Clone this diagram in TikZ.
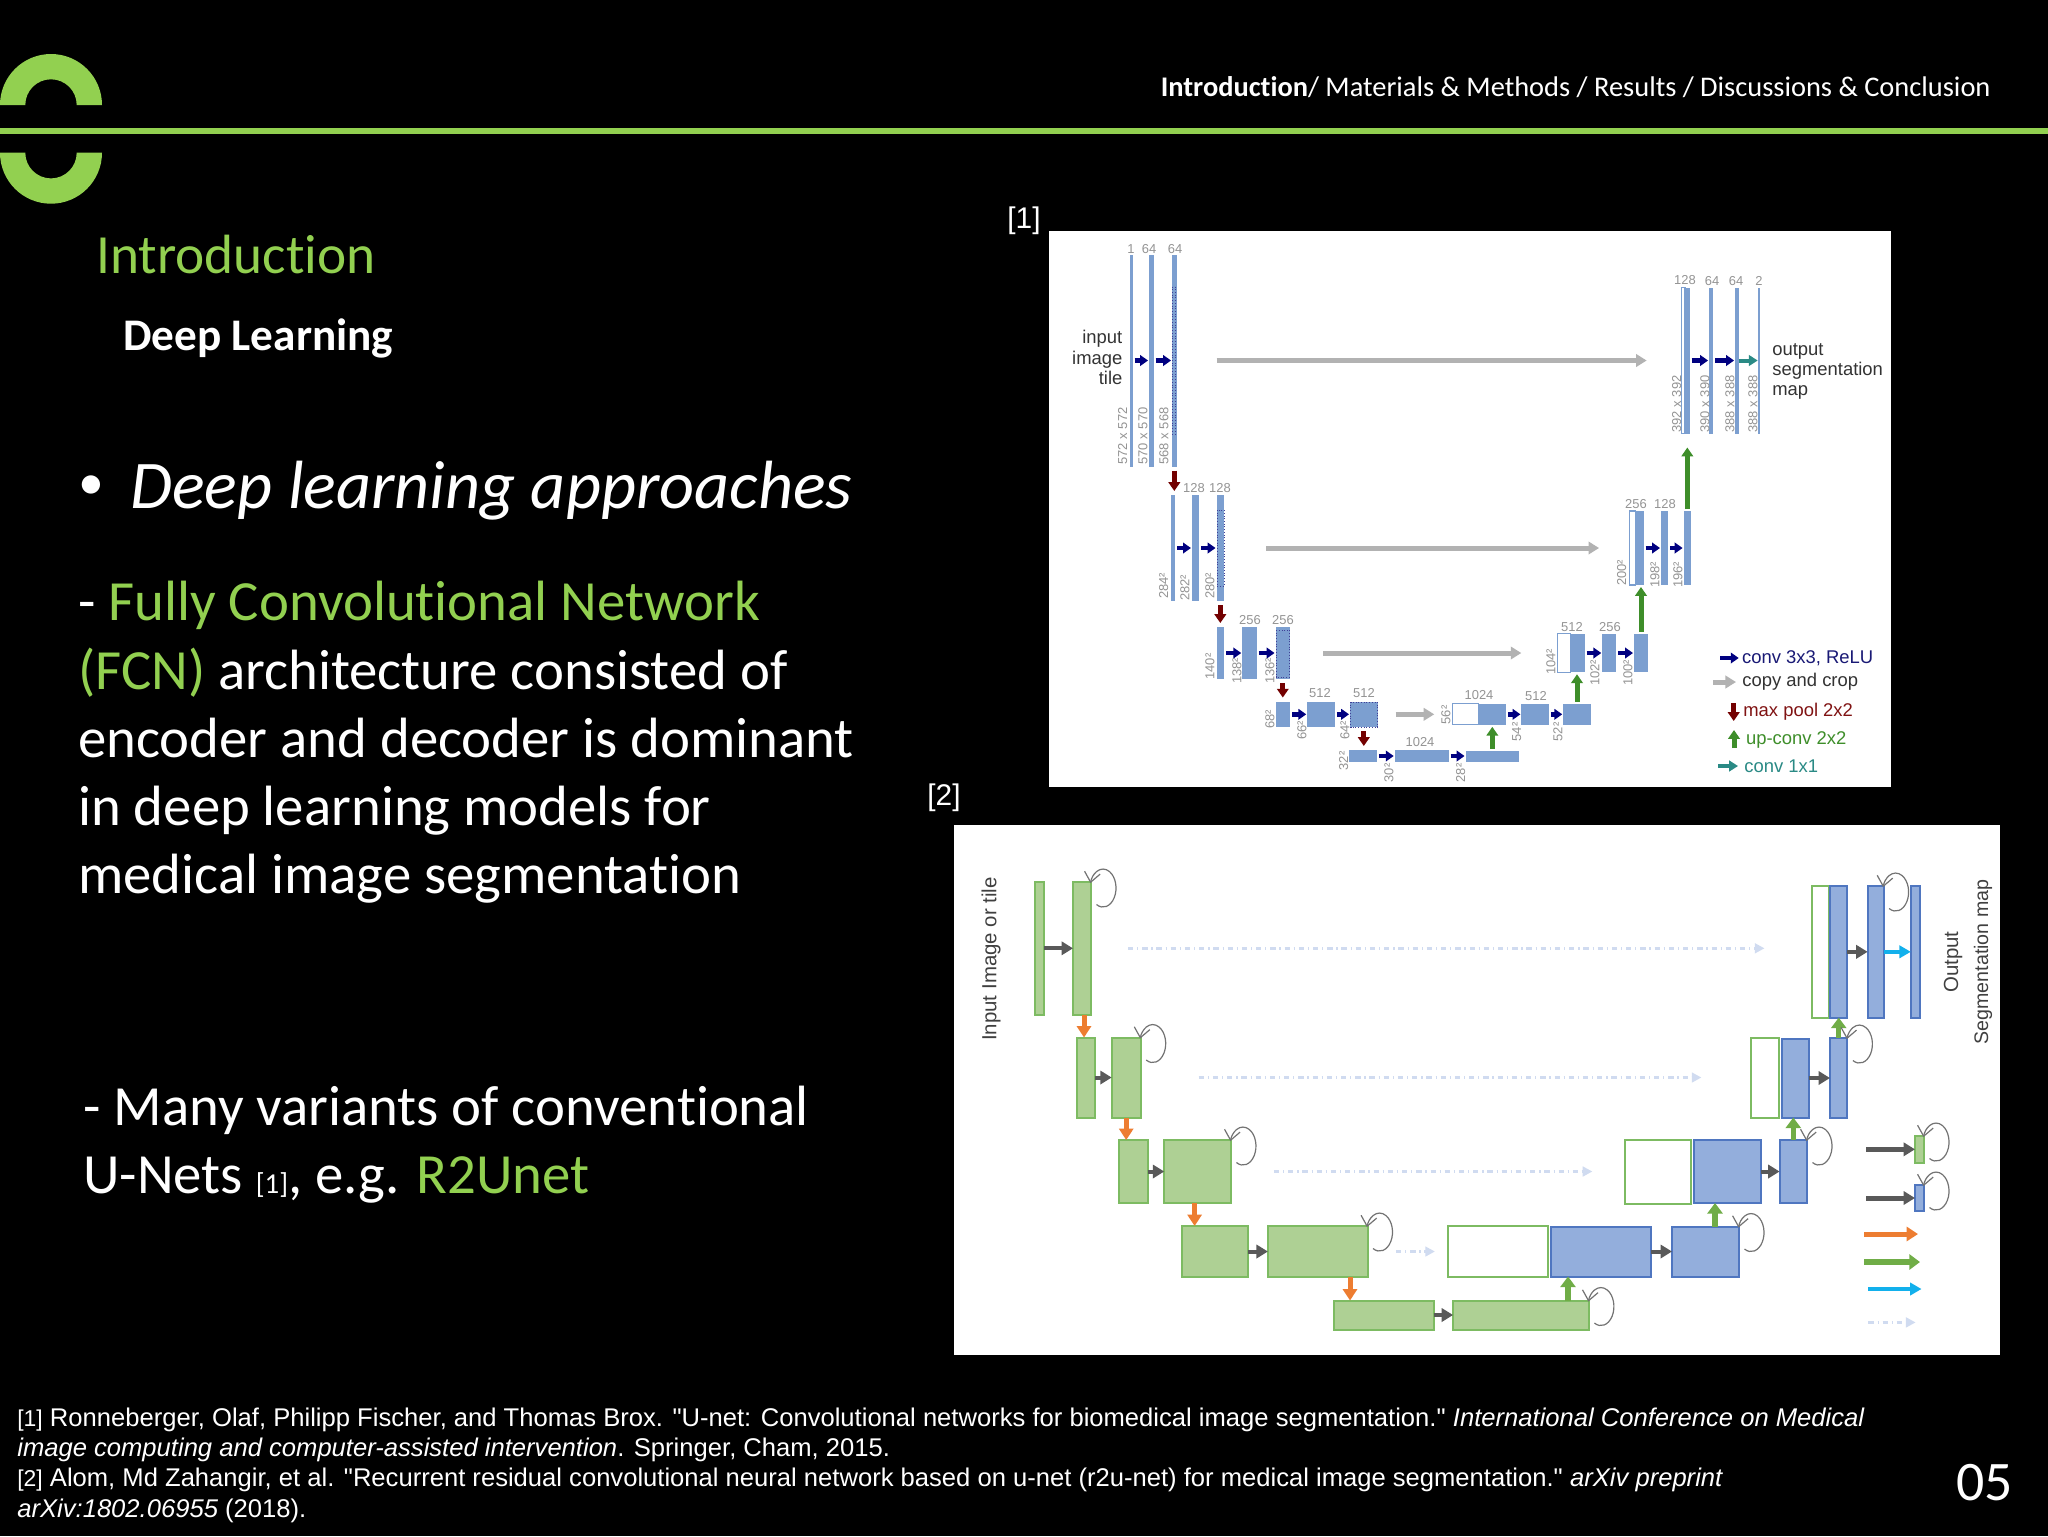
\documentclass[tikz,border=0pt]{standalone}
\usepackage{fontspec}
\setmainfont[Ligatures=CommonOff]{Carlito}
\newfontfamily\arialfont{Liberation Sans}
\usetikzlibrary{arrows.meta,positioning}
\definecolor{limeg}{HTML}{92D050}
\definecolor{ublue}{HTML}{7C9FD0}
\definecolor{gblock}{HTML}{AED094}
\definecolor{gedge}{HTML}{7DBB62}
\definecolor{bblock}{HTML}{93AEDC}
\definecolor{bedge}{HTML}{4F76C0}
\definecolor{upgreen}{HTML}{3E8E2A}
\definecolor{onet}{HTML}{2A8A85}
\definecolor{kgreen}{HTML}{70AD47}
\definecolor{korange}{HTML}{ED7D31}
\definecolor{kcyan}{HTML}{12B0EC}
\definecolor{kdark}{HTML}{595959}
\definecolor{kskip}{HTML}{D0DBF0}
\newcommand{\px}{0.02cm}
% font size and baseline skip in picture units
\newcommand{\fszb}[2]{\pgfmathsetmacro\fszA{#1*0.5669}\pgfmathsetmacro\fszB{#2*0.5669}\fontsize{\fszA pt}{\fszB pt}\selectfont}
\newcommand{\fsz}[1]{\fszb{#1}{#1*1.2}}
\tikzset{
  x=0.02cm, y=-0.02cm,
  >=Stealth,
  bar/.style = {fill=ublue, draw=none, inner sep=0pt, outer sep=0pt},
  hollow/.style = {fill=white, draw=ublue, line width=0.6pt, inner sep=0pt, outer sep=0pt},
  dots/.style = {blue!45!black!75!white, densely dotted, line width=0.55pt},
  conv/.style = {-{Triangle[length=4.5pt,width=6pt]}, color=blue!50!black, line width=4.5*\px, shorten <=2*\px, shorten >=1*\px},
  copyarr/.style = {-{Triangle[length=6pt,width=7pt]}, color=black!30, line width=5*\px},
  pool/.style = {-{Triangle[length=5pt,width=6.5pt]}, color=red!45!black, line width=5*\px, shorten <=4*\px, shorten >=4*\px},
  upconv/.style = {-{Triangle[length=5pt,width=6.5pt]}, color=upgreen, line width=5*\px, shorten <=2*\px, shorten >=2*\px},
  onebyone/.style = {-{Triangle[length=5pt,width=6pt]}, color=onet, line width=4*\px},
  toplab/.style = {font=\arialfont\fsz{13}, text=black!42, inner sep=0pt},
  dimlab/.style = {toplab, rotate=90},
  ulab/.style = {font=\arialfont\fszb{18.5}{20.3}, text=black!80, inner sep=0pt},
  gblk/.style = {fill=gblock, draw=gedge, line width=2*\px, inner sep=0pt, outer sep=0pt},
  bblk/.style = {fill=bblock, draw=bedge, line width=2*\px, inner sep=0pt, outer sep=0pt},
  wblk/.style = {fill=white, draw=gedge, line width=2*\px, inner sep=0pt, outer sep=0pt},
  darr/.style = {-{Triangle[length=6.5pt,width=7.5pt]}, color=kdark, line width=4*\px},
  oarr/.style = {-{Triangle[length=6.5pt,width=8pt]}, color=korange, line width=5*\px},
  garr/.style = {-{Triangle[length=6pt,width=8.5pt]}, color=kgreen, line width=5.5*\px},
  carr/.style = {-{Triangle[length=6.5pt,width=7pt]}, color=kcyan, line width=4*\px},
  skiparr/.style = {-{Triangle[length=5.5pt,width=5.5pt]}, color=kskip, line width=2.5*\px, dash pattern=on 3pt off 2.2pt on 0.7pt off 2.2pt},
  looparr/.style = {-{Straight Barb[length=5.5pt,width=9pt]}, color=black!55, line width=1.2*\px},
  rlab/.style = {font=\arialfont\fsz{20.5}, text=black!75, inner sep=0pt, rotate=90},
  slide/.style = {text=white, inner sep=0pt, anchor=west, align=left},
  ref/.style = {text=white, inner sep=0pt, anchor=west, font=\arialfont\fsz{25.7}},
}
% block given by centre and size, in picture units
\newcommand{\blk}[6]{\node[#1, minimum width=#5*\px, minimum height=#6*\px] (#2) at (#3,#4) {};}
% recurrent loop on the top right corner of a block
\newcommand{\recur}[1]{\draw[looparr] ([shift={(5.5,22.5)}]#1.north east)
  arc[start angle=120, end angle=-165, x radius=13, y radius=19];}

\begin{document}
\begin{tikzpicture}
  \useasboundingbox (0,0) rectangle (2048,1536);
  \fill[black] (0,0) rectangle (2048,1536);

  % logo and rule
  \fill[limeg] (0,105) arc[start angle=180, end angle=360, radius=51]
    -- (76.7,105) arc[start angle=360, end angle=180, radius=25.7] -- cycle;
  \fill[limeg] (0,152.7) arc[start angle=180, end angle=0, radius=51]
    -- (76.7,152.7) arc[start angle=0, end angle=180, radius=25.7] -- cycle;
  \fill[limeg] (0,128) rectangle (2048,134.3);

  % slide text
  \node[slide, anchor=east, font=\fsz{28.55}] (crumbs) at (1991,87) {\textbf{Introduction}/ Materials \& Methods / Results / Discussions \& Conclusion};
  \node[slide, font=\fsz{55.5}, text=limeg] (title) at (96,254.5) {Introduction};
  \node[slide, font=\bfseries\fsz{45.4}] (sub) at (123,338.5) {Deep Learning};
  \node[slide, font=\fsz{52}] (bull) at (78,488) {•};
  \node[slide, font=\itshape\fsz{68.5}] (deep) at (130,491) {Deep learning approaches};
  \node[slide, font=\fszb{57}{68.5}] (para) at (78,742.5) {%
    - \textcolor{limeg}{Fully Convolutional Network}\\
    \textcolor{limeg}{(FCN)} architecture consisted of\\
    encoder and decoder is dominant\\
    in deep learning models for\\
    medical image segmentation};
  \node[slide, font=\fszb{57}{68.5}] (many) at (83,1145) {%
    - Many variants of conventional\\
    U-Nets {\fsz{29}[1]}, e.g. \textcolor{limeg}{R2Unet}};
  \node[slide, font=\fsz{56}] (pageno) at (1956,1483) {05};
  \node[slide, font=\arialfont\fsz{30}] (tagA) at (1007,221) {[1]};
  \node[slide, font=\arialfont\fsz{30}] (tagB) at (927,798) {[2]};

  % references
  \node[ref] (refA) at (17,1419.5) {{\fsz{23}[1]} Ronneberger, Olaf, Philipp Fischer, and Thomas Brox. "U-net: Convolutional networks for biomedical image segmentation." \textit{International Conference on Medical}};
  \node[ref] (refB) at (17,1449.5) {\textit{image computing and computer-assisted intervention}. Springer, Cham, 2015.};
  \node[ref] (refC) at (17,1479.5) {{\fsz{23}[2]} Alom, Md Zahangir, et al. "Recurrent residual convolutional neural network based on u-net (r2u-net) for medical image segmentation." \textit{arXiv preprint}};
  \node[ref] (refD) at (17,1510.5) {\textit{arXiv:1802.06955} (2018).};

  % U-Net panel
  \fill[white] (1049,231) rectangle (1891,787);
  \blk{bar}{uA}{1131}{360.5}{3}{212}
  \blk{bar}{uB}{1151.3}{360.5}{4.5}{212}
  \blk{bar}{uC}{1174.3}{360.5}{4.5}{212}
  \blk{bar}{vA}{1173}{548}{4.5}{106}
  \blk{bar}{vB}{1195.7}{548}{7.5}{106}
  \blk{bar}{vC}{1220.3}{548}{7.5}{106}
  \blk{bar}{wA}{1220.6}{653}{7.5}{52}
  \blk{bar}{wB}{1249.5}{653}{14.5}{52}
  \blk{bar}{wC}{1282.8}{653}{14.5}{52}
  \blk{bar}{xA}{1283}{714.3}{14}{25.5}
  \blk{bar}{xB}{1321}{714.3}{27.5}{25.5}
  \blk{bar}{xC}{1363.8}{714.3}{27.5}{25.5}
  \blk{bar}{yA}{1363}{756}{27.5}{12}
  \blk{bar}{yB}{1421.7}{756}{54}{12}
  \blk{bar}{yC}{1492.3}{756}{53.5}{11}
  \blk{hollow}{xW}{1465.5}{714.3}{26.5}{21}
  \blk{bar}{xD}{1492.3}{714.3}{27.5}{21}
  \blk{bar}{xE}{1535.2}{714.3}{27.5}{21}
  \blk{bar}{xF}{1577}{714.3}{27.5}{21}
  \blk{hollow}{wW}{1564}{653}{13.4}{38.5}
  \blk{bar}{wD}{1577.7}{653}{14}{38.5}
  \blk{bar}{wE}{1609.3}{653}{14}{38.5}
  \blk{bar}{wF}{1641}{653}{14}{38.5}
  \blk{hollow}{vW}{1632.4}{548}{6.7}{74}
  \blk{bar}{vD}{1639.7}{548}{8}{74}
  \blk{bar}{vE}{1664.7}{548}{7.4}{74}
  \blk{bar}{vF}{1687.3}{548}{7.4}{74}
  \blk{hollow}{uW}{1683.3}{360.5}{3.3}{146}
  \blk{bar}{uD}{1687.3}{360.5}{4.7}{146}
  \blk{bar}{uE}{1711.2}{360.5}{4.3}{146}
  \blk{bar}{uF}{1736.9}{360.5}{3.7}{146}
  \blk{bar}{uG}{1758.7}{360.5}{2}{146}
  % dropout marks
  \draw[dots] (uC.center) ++(-1.5,-74) -- ++(0,148) (uC.center) ++(1.5,-74) -- ++(0,148);
  \draw[dots] (1217,510) rectangle (1224,586);
  \draw[dots] (1276,630) rectangle (1289.5,677);
  \draw[dots] (1350.5,702) rectangle (1377.5,727);

  % same level arrows
  \foreach \from/\to in {uA/uB, uB/uC, vA/vB, vB/vC, wA/wB, wB/wC, xA/xB, xB/xC, yA/yB, yB/yC, xD/xE, xE/xF, wD/wE, wE/wF, vD/vE, vE/vF, uD/uE, uE/uF}
    \draw[conv] (\from.east) -- (\to.west);
  \draw[onebyone] (uF.east) -- (uG.west);
  \draw[copyarr, shorten <=40*\px, shorten >=35*\px] (uC.east) -- (uW.west);
  \draw[copyarr, shorten <=42*\px, shorten >=30*\px] (vC.east) -- (vW.west);
  \draw[copyarr, shorten <=33*\px, shorten >=36*\px] (wC.east) -- (wW.west);
  \draw[copyarr, shorten <=18*\px, shorten >=18*\px] (xC.east) -- (xW.west);
  \foreach \from/\to in {uC/vA, vC/wA, wC/xA, xC/yA}
    \draw[pool] (\from.south) -- (\from.south |- \to.north);
  \foreach \from/\to in {yC/xD, xF/wD, wF/vD}
    \draw[upconv] (\from.north) -- (\from.north |- \to.south);
  \draw[upconv, shorten >=14*\px] (vF.north) -- (vF.north |- uD.south);

  % U-Net labels
  \foreach \x/\y/\t [count=\i] in {1131/249/1, 1149/249/64, 1175/249/64, 1194/488/128, 1220/488/128, 1250/620/256, 1283/620/256, 1320/693.5/512, 1364/693.5/512, 1479/695/1024, 1420/742/1024, 1536/696/512, 1572/627/512, 1610/627/256, 1636/504/256, 1665/504/128, 1685/280/128, 1712/281/64, 1736/281/64, 1759/281/2}
    \node[toplab] (top\i) at (\x,\y) {\t};
  \foreach \x/\y/\t [count=\i] in {1122.7/436/572 x 572, 1143/436/570 x 570, 1164/436/568 x 568, 1163.7/586/284², 1185/588/282², 1210/586/280², 1210/666.5/140², 1237/671/138², 1270/671/136², 1270/719.5/68², 1302/730.5/66², 1345/730.5/64², 1343.7/761/32², 1389/773/30², 1460.7/773/28², 1446/715/56², 1516.7/732/54², 1558/732/52², 1551/662/104², 1595/673/102², 1628/673/100², 1621.7/573/200², 1655/575/198², 1678/575/196², 1676.7/404/392 x 392, 1705/404/390 x 390, 1730/404/388 x 388, 1753/404/388 x 388}
    \node[dimlab] (dim\i) at (\x,\y) {\t};
  \node[ulab, anchor=east, align=right] (inlab) at (1122.7,357.6) {input\\image\\tile};
  \node[ulab, anchor=west, align=left] (outlab) at (1772,371.5) {output\\segmentation\\map};

  % U-Net legend
  \node[ulab, anchor=west, text=blue!45!black!80!gray] (lgConv) at (1741.7,658) {conv 3x3, ReLU};
  \node[ulab, anchor=west] (lgCopy) at (1742,682) {copy and crop};
  \node[ulab, anchor=west, text=red!50!black!85!gray] (lgPool) at (1743,712) {max pool 2x2};
  \node[ulab, anchor=west, text=upgreen] (lgUp) at (1745.7,740) {up-conv 2x2};
  \node[ulab, anchor=west, text=onet] (lgOne) at (1744,766) {conv 1x1};
  \coordinate (cConv) at (1718,658);
  \coordinate (cCopy) at (1713,682);
  \coordinate (cPoolA) at (1733.7,703);
  \coordinate (cPoolB) at (1733.7,721);
  \coordinate (cUpA) at (1734,748);
  \coordinate (cUpB) at (1734,730);
  \coordinate (cOne) at (1718,766);
  \draw[conv, shorten >=3*\px] (cConv) -- (lgConv.west);
  \draw[copyarr, shorten >=6*\px] (cCopy) -- (lgCopy.west);
  \draw[pool, shorten <=0pt, shorten >=0pt] (cPoolA) -- (cPoolB);
  \draw[upconv, shorten <=0pt, shorten >=0pt] (cUpA) -- (cUpB);
  \draw[onebyone, shorten >=6*\px] (cOne) -- (lgOne.west);

  % R2U-Net panel
  \fill[white] (953.6,824.5) rectangle (1999.5,1354.8);
  \blk{gblk}{pA}{1039.3}{948.3}{9.4}{132.6}
  \blk{gblk}{pB}{1082}{948.3}{18}{132.6}
  \blk{gblk}{qA}{1086.4}{1077.5}{18}{80}
  \blk{gblk}{qB}{1126.2}{1077.5}{29}{80}
  \blk{gblk}{rA}{1133}{1171.5}{29}{63}
  \blk{gblk}{rB}{1197.6}{1171.5}{66.7}{63}
  \blk{gblk}{sA}{1215}{1251.5}{66}{51}
  \blk{gblk}{sB}{1317.7}{1251.5}{99.6}{51}
  \blk{wblk}{sW}{1497.9}{1251.5}{100}{50.6}
  \blk{bblk}{sC}{1600.5}{1251.5}{100}{50}
  \blk{bblk}{sD}{1705.5}{1251.5}{67}{50}
  \blk{gblk}{tA}{1383.6}{1315}{100}{29}
  \blk{gblk}{tB}{1521}{1315}{135.8}{29}
  \blk{wblk}{rW}{1658.2}{1171.5}{65.7}{64}
  \blk{bblk}{rC}{1727.2}{1171.5}{66.8}{63}
  \blk{bblk}{rD}{1793.3}{1171.5}{27.4}{63}
  \blk{wblk}{qW}{1765.2}{1078}{27.6}{80}
  \blk{bblk}{qC}{1795.1}{1078}{26.8}{79}
  \blk{bblk}{qD}{1838.7}{1078}{17.4}{80}
  \blk{wblk}{pW}{1820}{951.8}{17}{131.6}
  \blk{bblk}{pC}{1838.7}{951.8}{17.4}{131.6}
  \blk{bblk}{pD}{1875.6}{951.8}{16}{131.6}
  \blk{bblk}{pE}{1915.6}{951.8}{9.6}{131.6}
  \blk{gblk}{lgG}{1919.5}{1149.3}{9}{26.6}
  \blk{bblk}{lgB}{1919.5}{1198}{9}{26}

  % level arrows
  \foreach \from/\to in {pA/pB, qA/qB, rA/rB, sA/sB, tA/tB, sC/sD, rC/rD, qC/qD, pC/pD}
    \draw[darr] (\from.east) -- (\to.west);
  \draw[carr] (pD.east) -- (pE.west);
  \draw[oarr] ([xshift=2*\px]pB.south) -- ([xshift=2*\px]pB.south |- qA.north);
  \draw[oarr] (qB.south) -- (qB.south |- rA.north);
  \draw[oarr] ([xshift=-3*\px]rB.south) -- ([xshift=-3*\px]rB.south |- sA.north);
  \draw[oarr] ([xshift=32.3*\px]sB.south) -- ([xshift=32.3*\px]sB.south |- tA.north);
  \draw[garr] ([xshift=47*\px]tB.north) -- ([xshift=47*\px]tB.north |- sC.south);
  \draw[garr] ([xshift=9.5*\px]sD.north) -- ([xshift=9.5*\px]sD.north |- rC.south);
  \draw[garr] (rD.north) -- (rD.north |- qC.south);
  \draw[garr] (qD.north) -- (qD.north |- pC.south);
  \draw[skiparr] ([xshift=37*\px]pB.east) -- ([xshift=-47*\px]pW.west |- pB.east);
  \draw[skiparr] ([xshift=58*\px]qB.east) -- ([xshift=-50*\px]qW.west |- qB.east);
  \draw[skiparr] ([xshift=43*\px]rB.east) -- ([xshift=-33*\px]rW.west |- rB.east);
  \draw[skiparr] ([xshift=28.5*\px]sB.east) -- ([xshift=-13*\px]sW.west |- sB.east);

  % recurrent loops
  \foreach \b in {pB, qB, rB, sB, tB, sD, rD, qD, pD, lgG, lgB} {
    \recur{\b}
  }

  % R2U-Net legend
  \coordinate (kDarkA) at (1866.4,1149.3);
  \coordinate (kDarkB) at (1866.4,1198);
  \coordinate (kOrA) at (1864,1234);
  \coordinate (kOrB) at (1918,1234);
  \coordinate (kGrA) at (1864,1262);
  \coordinate (kGrB) at (1920,1262);
  \coordinate (kCyA) at (1868.4,1289);
  \coordinate (kCyB) at (1921.5,1289);
  \coordinate (kSkA) at (1868.4,1322.4);
  \coordinate (kSkB) at (1915.6,1322.4);
  \draw[darr, line width=5*\px] (kDarkA) -- (lgG.west);
  \draw[darr, line width=5*\px] (kDarkB) -- (lgB.west);
  \draw[oarr] (kOrA) -- (kOrB);
  \draw[garr] (kGrA) -- (kGrB);
  \draw[carr] (kCyA) -- (kCyB);
  \draw[skiparr] (kSkA) -- (kSkB);

  \node[rlab] (inputtxt) at (991,959) {Input Image or tile};
  \node[rlab] (outtxt) at (1953,962) {Output};
  \node[rlab, font=\arialfont\fsz{19.7}] (segtxt) at (1983,962) {Segmentation map};
\end{tikzpicture}
\end{document}
